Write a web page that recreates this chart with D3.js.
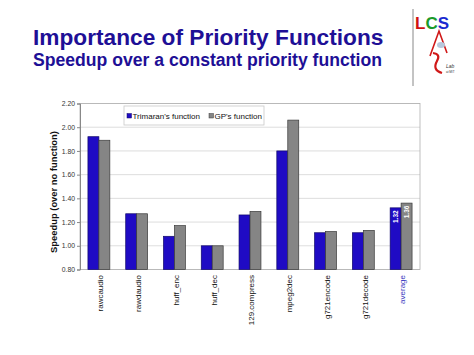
<!DOCTYPE html>
<html>
<head>
<meta charset="utf-8">
<script src="https://cdn.jsdelivr.net/npm/d3@7"></script>
<style>
  html, body { margin: 0; padding: 0; background: #fff; }
  svg { display: block; font-family: Arial, "Liberation Sans", sans-serif; }
</style>
</head>
<body>
<svg id="chart" width="474" height="355"></svg>
<script>
const categories = ["rawcaudio", "rawdaudio", "huff_enc", "huff_dec", "129.compress", "mpeg2dec", "g721encode", "g721decode", "average"];
const seriesNames = ["Trimaran's function", "GP's function"];
const trimaranValues = [1.92, 1.27, 1.08, 1.00, 1.26, 1.80, 1.11, 1.11, 1.32];
const gpValues = [1.89, 1.27, 1.17, 1.00, 1.29, 2.06, 1.12, 1.13, 1.36];
const yTicks = [0.80, 1.00, 1.20, 1.40, 1.60, 1.80, 2.00, 2.20];
const titleText = "Importance of Priority Functions";
const subtitleText = "Speedup over a constant priority function";
const yAxisTitle = "Speedup (over no function)";

const svg = d3.select("#chart");
const colors = ["#1f0bc4", "#858585"];
const titleColor = "#1e0f96";

// Titles
svg.append("text").attr("x", 33).attr("y", 45)
  .attr("font-size", 22.7).attr("font-weight", "bold").attr("fill", titleColor)
  .text(titleText);
svg.append("text").attr("x", 33).attr("y", 66)
  .attr("font-size", 17.6).attr("font-weight", "bold").attr("fill", titleColor)
  .text(subtitleText);

// Logo
const logo = svg.append("g");
logo.append("line").attr("x1", 413).attr("x2", 413).attr("y1", 9).attr("y2", 86)
  .attr("stroke", "#888").attr("stroke-width", 1);
const lcs = logo.append("text").attr("x", 415).attr("y", 29)
  .attr("font-size", 17).attr("font-weight", "bold");
lcs.append("tspan").attr("fill", "#d01010").text("L");
lcs.append("tspan").attr("fill", "#1a9a2a").text("C");
lcs.append("tspan").attr("fill", "#1a2ad0").text("S");
logo.append("path").attr("d", "M430,56 L439,31 L447,53")
  .attr("fill", "none").attr("stroke", "#d01818").attr("stroke-width", 1.6);
logo.append("ellipse").attr("cx", 441).attr("cy", 45).attr("rx", 4).attr("ry", 3)
  .attr("fill", "#b8c8dc");
logo.append("path").attr("d", "M433,53 Q441,54 437,61 Q432,70 442,73")
  .attr("fill", "none").attr("stroke", "#d01818").attr("stroke-width", 2.2);
logo.append("text").attr("x", 446).attr("y", 68).attr("font-size", 5)
  .attr("font-style", "italic").attr("fill", "#333").text("Lab");
logo.append("text").attr("x", 446).attr("y", 73).attr("font-size", 3)
  .attr("fill", "#333").text("at MIT");

// Plot
const x0 = 80, x1 = 420, yTop = 103.5, yBot = 269.5;
const x = d3.scaleBand().domain(categories).range([x0, x1]).paddingInner(0.42).paddingOuter(0.21);
const xs = d3.scaleBand().domain(seriesNames).range([0, x.bandwidth()]);
const y = d3.scaleLinear().domain([0.8, 2.2]).range([yBot, yTop]);

// gridlines
svg.append("g").selectAll("line").data(yTicks).join("line")
  .attr("x1", x0).attr("x2", x1).attr("y1", d => y(d)).attr("y2", d => y(d))
  .attr("stroke", "#d4d4d4").attr("stroke-width", 0.8);

// plot border
svg.append("rect").attr("x", x0).attr("y", yTop).attr("width", x1 - x0).attr("height", yBot - yTop)
  .attr("fill", "none").attr("stroke", "#b0b0b0").attr("stroke-width", 0.8);

// y axis
const yAxis = svg.append("g").attr("transform", `translate(${x0},0)`)
  .call(d3.axisLeft(y).tickValues(yTicks).tickFormat(d3.format(".2f")).tickSize(3));
yAxis.select(".domain").attr("stroke", "#888");
yAxis.selectAll(".tick line").attr("stroke", "#888");
yAxis.selectAll(".tick text").attr("font-size", 6.8).attr("fill", "#333")
  .attr("font-family", "Arial, 'Liberation Sans', sans-serif").attr("x", -5);

svg.append("text")
  .attr("transform", `translate(57,192) rotate(-90)`)
  .attr("text-anchor", "middle").attr("font-size", 9.4).attr("font-weight", "bold")
  .attr("fill", "#111").text(yAxisTitle);

// bars
const rows = categories.map((c, i) => ({ cat: c, vals: [trimaranValues[i], gpValues[i]] }));
const groups = svg.append("g").selectAll("g").data(rows).join("g")
  .attr("transform", d => `translate(${x(d.cat)},0)`);
groups.selectAll("rect").data(d => d.vals.map((v, j) => ({ v, s: seriesNames[j], j })))
  .join("rect")
  .attr("x", d => xs(d.s)).attr("width", xs.bandwidth())
  .attr("y", d => y(d.v)).attr("height", d => yBot - y(d.v))
  .attr("fill", d => colors[d.j]).attr("stroke", d => d.j === 0 ? "#10086a" : "#3a3a3a")
  .attr("stroke-width", 0.7);

// value labels on average
const last = rows[rows.length - 1];
last.vals.forEach((v, j) => {
  const cx = x(last.cat) + xs(seriesNames[j]) + xs.bandwidth() / 2;
  svg.append("text")
    .attr("transform", `translate(${cx},${y(v) + 2.5}) rotate(-90)`)
    .attr("text-anchor", "end").attr("dy", "0.35em")
    .attr("font-size", 6.5).attr("font-weight", "bold").attr("fill", "#fff")
    .text(d3.format(".2f")(v));
});

// x labels
svg.append("g").selectAll("text").data(categories).join("text")
  .attr("transform", d => `translate(${x(d) + x.bandwidth() / 2 + 1.5},275) rotate(-90)`)
  .attr("text-anchor", "end").attr("dy", "0.35em")
  .attr("font-size", 8).attr("fill", d => d === "average" ? "#3a3ac0" : "#111")
  .text(d => d);

// legend
const lg = svg.append("g");
lg.append("rect").attr("x", 124).attr("y", 106).attr("width", 140).attr("height", 19)
  .attr("fill", "#fff").attr("stroke", "#c8c8c8").attr("stroke-width", 0.8);
const legendX = [127, 209];
seriesNames.forEach((s, j) => {
  lg.append("rect").attr("x", legendX[j]).attr("y", 113.5).attr("width", 4.5).attr("height", 4.5)
    .attr("fill", colors[j]).attr("stroke", j === 0 ? "#10086a" : "#3a3a3a").attr("stroke-width", 0.5);
  lg.append("text").attr("x", legendX[j] + 5.5).attr("y", 116).attr("dy", "0.35em")
    .attr("font-size", 8).attr("fill", "#111").text(s);
});
</script>
</body>
</html>
